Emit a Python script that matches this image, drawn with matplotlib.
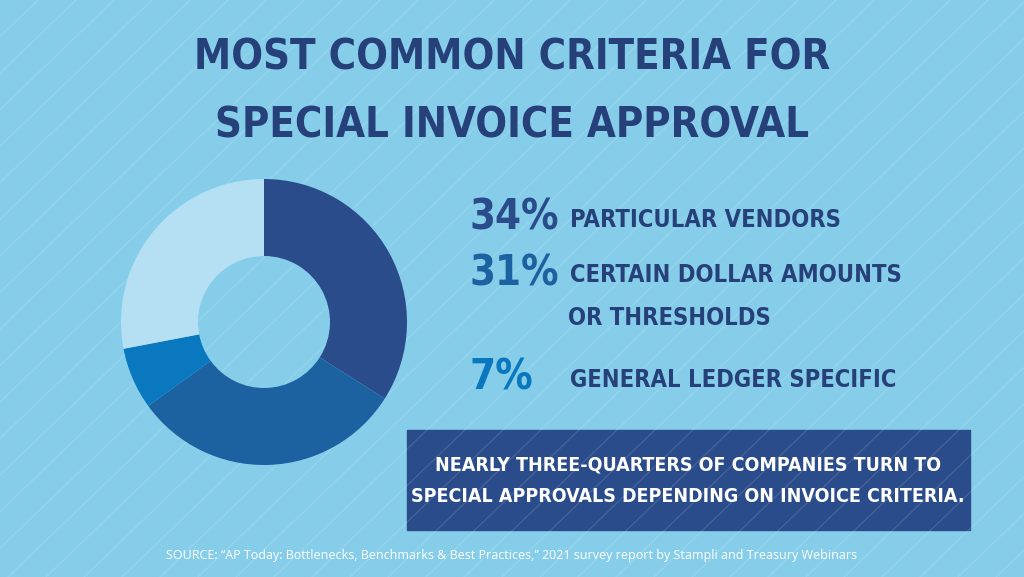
import matplotlib
matplotlib.use("Agg")
import matplotlib.pyplot as plt
import numpy as np

labels = ["Particular vendors", "Certain dollar amounts or thresholds", "General ledger specific", "Other"]
values = [34, 31, 7, 28]
colors = ["#2b4c8a", "#1c61a0", "#0a78bf", "#b5e0f3"]

W, H = 1024, 577
fig = plt.figure(figsize=(10.24, 5.77), dpi=100)
fig.patch.set_facecolor("#86cdea")

bg = fig.add_axes([0, 0, 1, 1])
bg.set_xlim(0, W); bg.set_ylim(H, 0); bg.axis("off")
for x0 in range(-600, 1100, 38):
    bg.plot([x0, x0 + 600], [H, 0], color="white", alpha=0.12, lw=1)

kw = dict(family="DejaVu Sans", stretch="condensed", weight="bold")
navy = "#26407a"
bg.text(512, 58, "MOST COMMON CRITERIA FOR", ha="center", va="center", fontsize=30, color=navy, **kw)
bg.text(512, 126, "SPECIAL INVOICE APPROVAL", ha="center", va="center", fontsize=30, color=navy, **kw)

rows = [(218, "34%", "#2b4c8a", "PARTICULAR VENDORS"), (273, "31%", "#1c61a0", "CERTAIN DOLLAR AMOUNTS"),
        (378, "7%", "#0a78bf", "GENERAL LEDGER SPECIFIC")]
for y, p, c, t in rows:
    bg.text(470, y, p, ha="left", va="center", fontsize=30, color=c, **kw)
    bg.text(570, y + 2, t, ha="left", va="center", fontsize=17, color=navy, **kw)
bg.text(568, 318, "OR THRESHOLDS", ha="left", va="center", fontsize=17, color=navy, **kw)

bg.add_patch(plt.Rectangle((407, 430), 563, 100, color="#2b4c8a"))
bg.text(688, 465, "NEARLY THREE-QUARTERS OF COMPANIES TURN TO", ha="center", va="center", fontsize=14, color="white", **kw)
bg.text(688, 497, "SPECIAL APPROVALS DEPENDING ON INVOICE CRITERIA.", ha="center", va="center", fontsize=14, color="white", **kw)
bg.text(512, 556, "SOURCE: \u201cAP Today: Bottlenecks, Benchmarks & Best Practices,\u201d 2021 survey report by Stampli and Treasury Webinars",
        ha="center", va="center", fontsize=9, color="white", family="Open Sans")

ax = fig.add_axes([(264 - 143) / W, 1 - (322 + 143) / H, 286 / W, 286 / H])
ax.pie(values, colors=colors, startangle=90, counterclock=False,
       wedgeprops=dict(width=77 / 143, edgecolor="none"))
ax.set_xlim(-1, 1); ax.set_ylim(-1, 1)
ax.set_aspect("equal")
fig.savefig("out.png", dpi=100, facecolor=fig.get_facecolor())
